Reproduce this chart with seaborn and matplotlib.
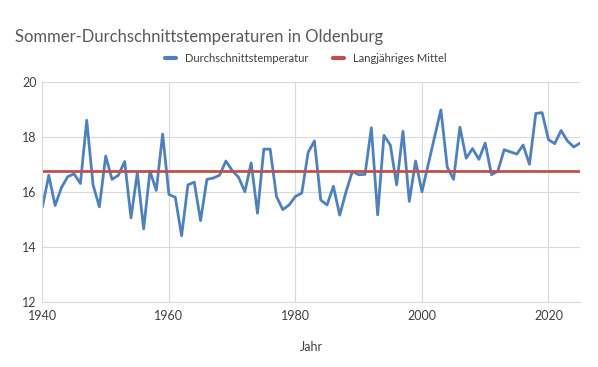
import numpy as np
import pandas as pd
import matplotlib
matplotlib.use("Agg")
import matplotlib.pyplot as plt
import seaborn as sns

# Sommer-Durchschnittstemperaturen
jahre = list(range(1940, 2026))
temperatur = [
    15.45, 16.6, 15.5, 16.15, 16.55, 16.65, 16.3, 18.6, 16.25, 15.45,
    17.3, 16.45, 16.6, 17.1, 15.05, 16.7, 14.65, 16.75, 16.05, 18.1,
    15.9, 15.8, 14.4, 16.25, 16.35, 14.95, 16.45, 16.5, 16.6, 17.12,
    16.77, 16.53, 16.0, 17.05, 15.22, 17.55, 17.55, 15.83, 15.35, 15.52,
    15.83, 15.95, 17.43, 17.85, 15.7, 15.52, 16.2, 15.15, 16.0, 16.74,
    16.62, 16.63, 18.33, 15.16, 18.05, 17.7, 16.25, 18.2, 15.65, 17.12,
    16.0, 17.0, 18.0, 18.98, 16.9, 16.45, 18.35, 17.22, 17.57, 17.18,
    17.77, 16.62, 16.75, 17.53, 17.45, 17.37, 17.7, 17.0, 18.85, 18.88,
    17.9, 17.75, 18.23, 17.85, 17.63, 17.77,
]
mittel = 16.75

df = pd.DataFrame({"Jahr": jahre, "Temperatur": temperatur})
df["Mittel"] = mittel

sns.set_style("whitegrid")
plt.rcParams["font.family"] = ["Lato", "DejaVu Sans"]

fig = plt.figure(figsize=(5.98, 3.67), dpi=100)
ax = fig.add_axes([0.071, 0.178, 0.899, 0.599])

sns.lineplot(data=df, x="Jahr", y="Temperatur", ax=ax, color="#4F81BD",
             linewidth=2.0, label="Durchschnittstemperatur")
sns.lineplot(data=df, x="Jahr", y="Mittel", ax=ax, color="#C0504D",
             linewidth=2.0, label="Langjähriges Mittel")

ax.set_xlim(1940, 2025)
ax.set_ylim(12, 20)
ax.set_xticks(range(1940, 2021, 20))
ax.set_yticks(range(12, 21, 2))
ax.grid(True, color="#D9D9D9", linewidth=0.8)
for s in ["top", "right"]:
    ax.spines[s].set_visible(False)
for s in ["left", "bottom"]:
    ax.spines[s].set_color("#D9D9D9")
    ax.spines[s].set_linewidth(0.8)
ax.tick_params(axis="both", length=0, labelsize=9, labelcolor="#404040")
ax.tick_params(axis="x", pad=6)
ax.tick_params(axis="y", pad=4)

ax.set_xlabel("Jahr", fontsize=9, color="#404040", labelpad=14)
ax.set_ylabel("")

fig.text(0.025, 0.9, "Sommer-Durchschnittstemperaturen in Oldenburg",
         fontsize=12, color="#595959", ha="left", va="center")

leg = ax.legend(loc="center", bbox_to_anchor=(0.49, 1.105), ncol=2, frameon=False,
                fontsize=8, handlelength=1.0, columnspacing=2.2, handletextpad=0.8)
for t in leg.get_texts():
    t.set_color("#404040")
for h in leg.get_lines():
    h.set_linewidth(3)

fig.savefig("out.png", dpi=100)
